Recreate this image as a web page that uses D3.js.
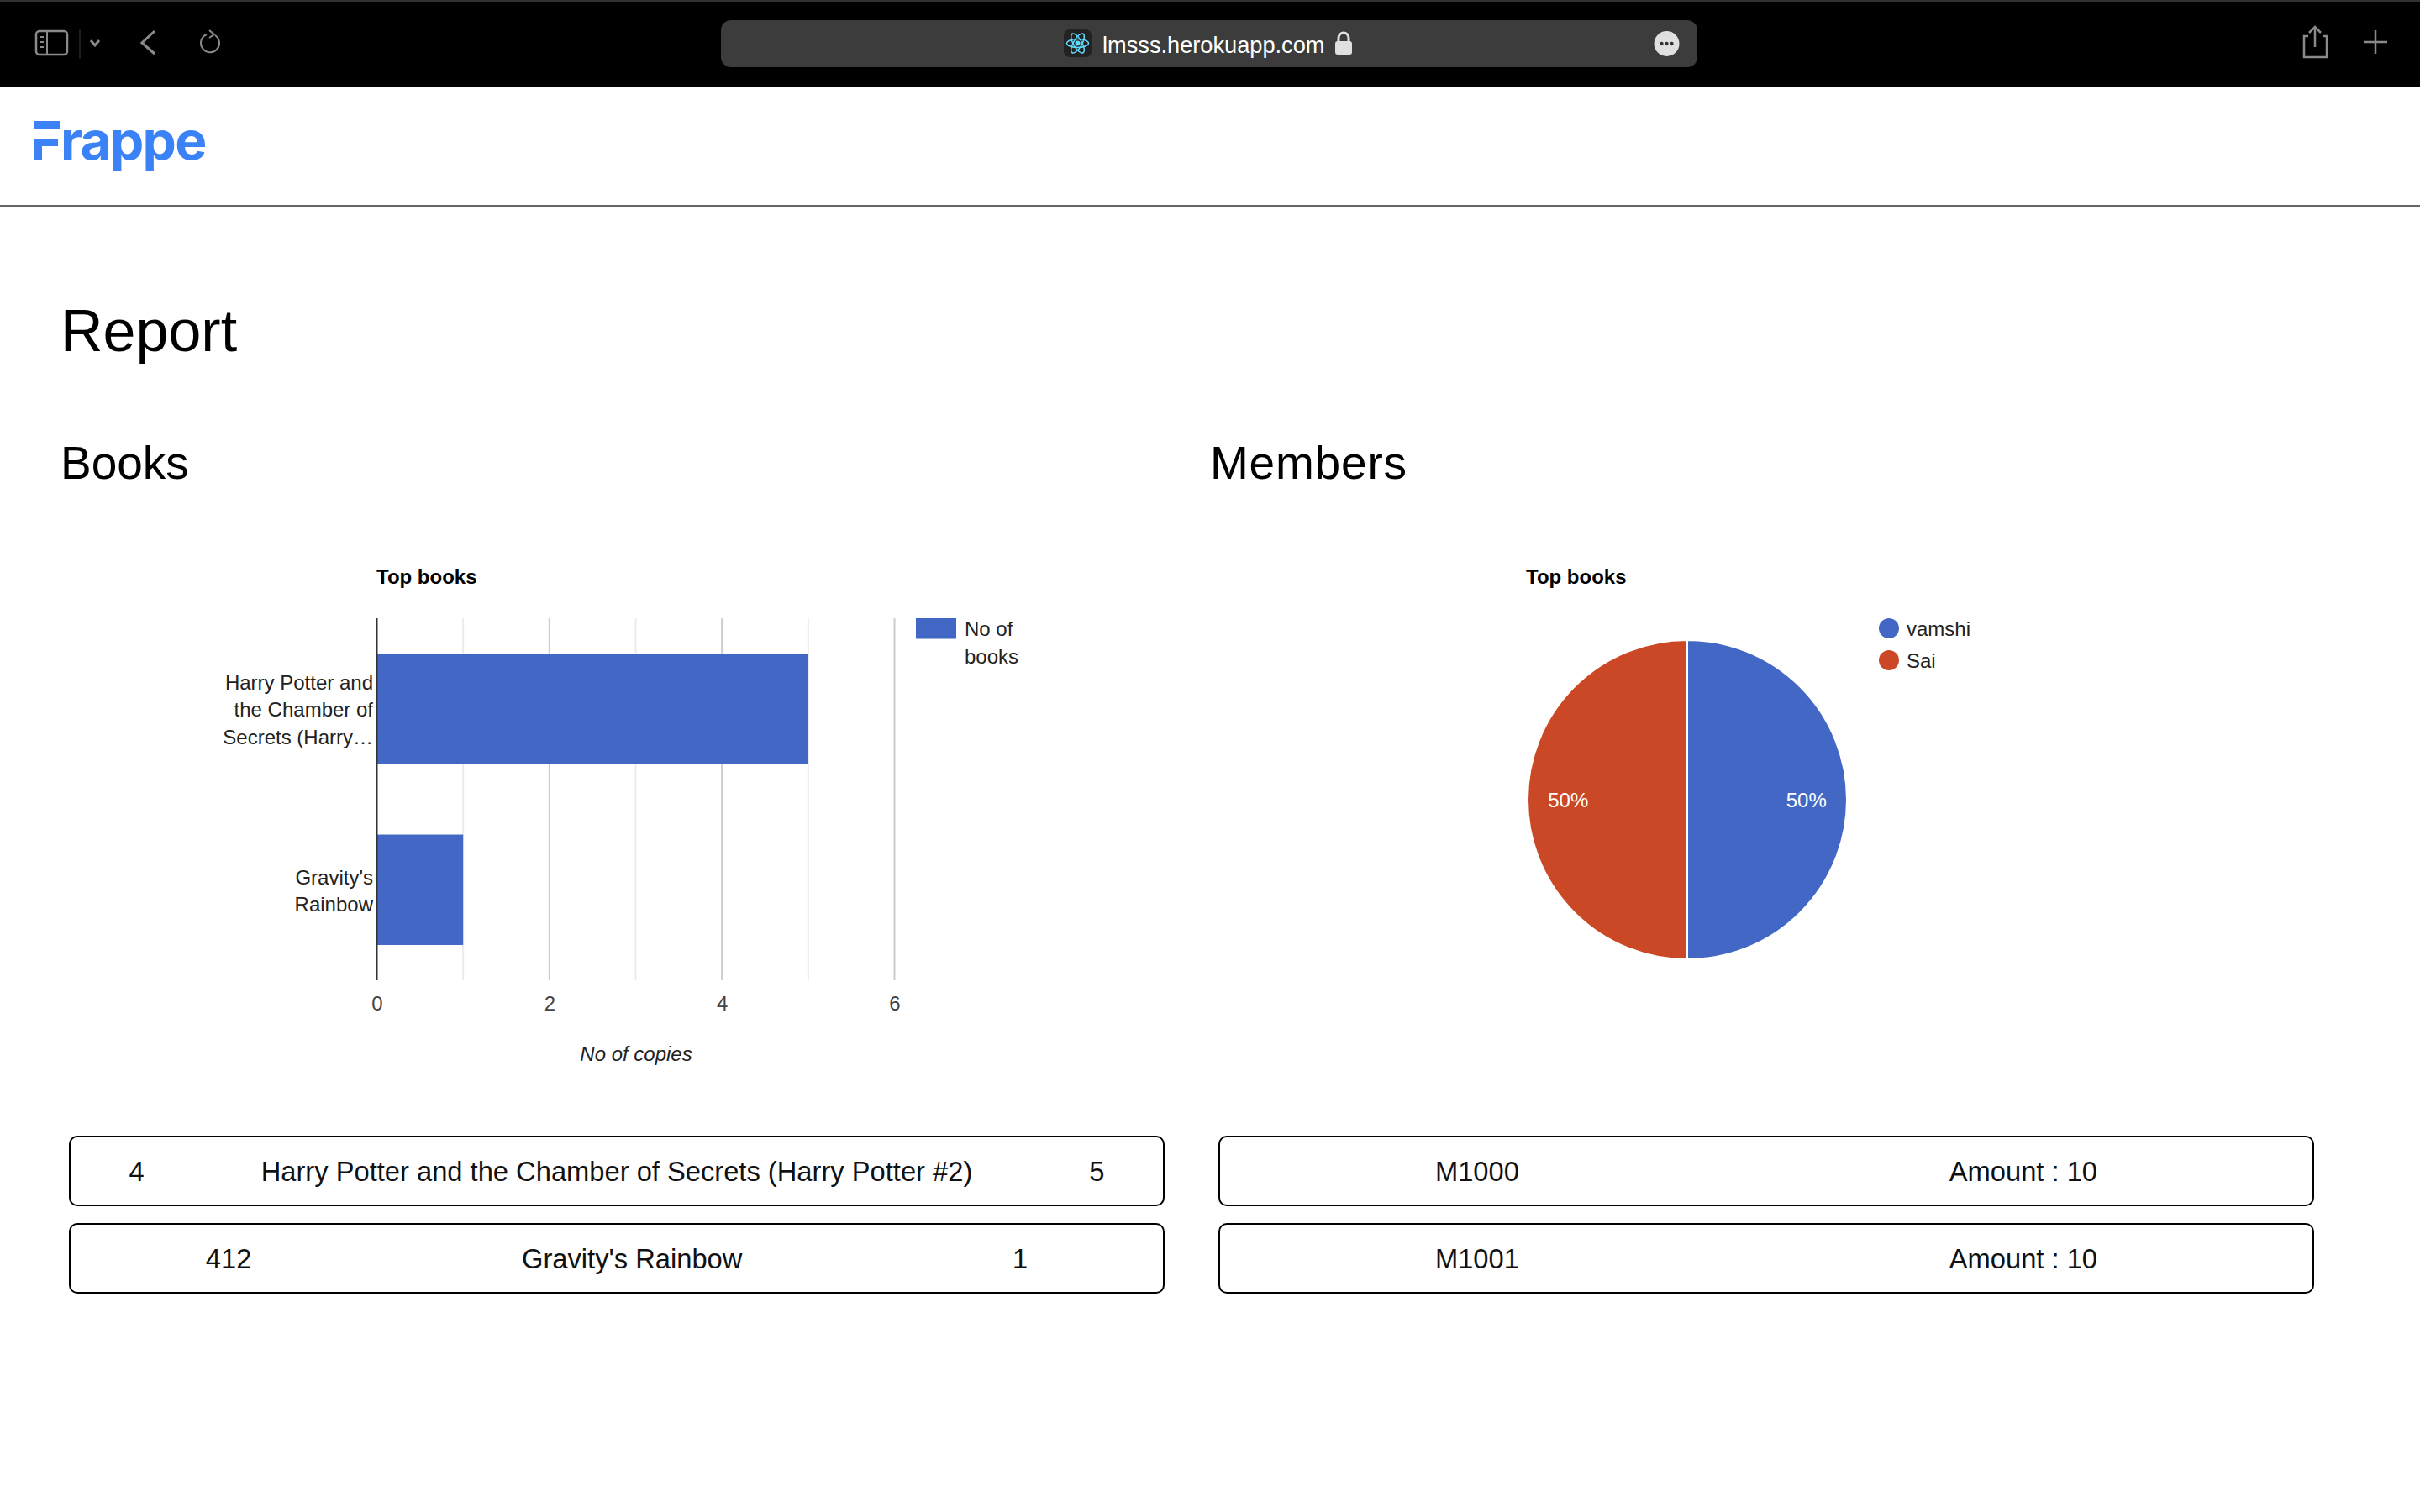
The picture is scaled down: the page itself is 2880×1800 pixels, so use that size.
<!DOCTYPE html>
<html>
<head>
<meta charset="utf-8">
<title>Report</title>
<script src="https://cdn.jsdelivr.net/npm/d3@7"></script>
<style>
    html, body { margin: 0; padding: 0; background: #fff; }
    body { width: 2880px; height: 1800px; position: relative; overflow: hidden; font-family: "Liberation Sans", Arial, sans-serif; }
    svg { position: absolute; left: 0; top: 0; }
    .row {
        position: absolute; box-sizing: border-box; height: 84px; width: 1304px;
        border: 2.5px solid #000; border-radius: 10px;
        display: flex; justify-content: space-around; align-items: center;
        font-size: 32.7px; color: #111;
    }
    .row span { position: relative; top: 1px; }
</style>
</head>
<body>
<svg id="page" width="2880" height="1800"></svg>
<script>
// datos
var bookLabels = [["Harry Potter and", "the Chamber of", "Secrets (Harry\u2026"], ["Gravity's", "Rainbow"]];
var bookCopies = [5, 1];
var xTickLabels = [0, 2, 4, 6];
var xGridValues = [0, 1, 2, 3, 4, 5, 6];
var barLegend = ["No of", "books"];

var memberNames = ["vamshi", "Sai"];
var memberShares = [50, 50];

var bookIds = ["4", "412"];
var bookTitles = ["Harry Potter and the Chamber of Secrets (Harry Potter #2)", "Gravity's Rainbow"];
var memberIds = ["M1000", "M1001"];
var memberAmounts = [10, 10];

var BLUE = "#4267c5";
var RED = "#cb4827";
var ICON = "#8a8a8a";

var svg = d3.select("#page");

// Barra del navegador
var chrome = svg.append("g");
chrome.append("rect").attr("width", 2880).attr("height", 104).attr("fill", "#000");
chrome.append("rect").attr("width", 2880).attr("height", 2).attr("fill", "#333");
chrome.append("rect").attr("x", 43).attr("y", 37).attr("width", 37).attr("height", 28).attr("rx", 4)
    .attr("fill", "none").attr("stroke", ICON).attr("stroke-width", 2.5);
chrome.append("path").attr("d", "M56,37V65M48,44h4M48,50h4M48,56h4").attr("fill", "none").attr("stroke", ICON).attr("stroke-width", 2);
chrome.append("path").attr("d", "M95,34V70").attr("stroke", "#262626").attr("stroke-width", 1.5);
chrome.append("path").attr("d", "M108,48l5,6l5,-6").attr("fill", "none").attr("stroke", ICON).attr("stroke-width", 3);
chrome.append("path").attr("d", "M184,37L169,51L184,64").attr("fill", "none").attr("stroke", ICON).attr("stroke-width", 3);
chrome.append("path").attr("d", "M246,41A11,11 0 1 0 256,42M249,36l6,5l-6,4").attr("fill", "none").attr("stroke", ICON).attr("stroke-width", 2);

chrome.append("rect").attr("x", 858).attr("y", 24).attr("width", 1162).attr("height", 56).attr("rx", 12).attr("fill", "#3c3c3c");
chrome.append("rect").attr("x", 1266).attr("y", 35).attr("width", 33).attr("height", 33).attr("rx", 7).attr("fill", "#222");
[0, 60, 120].forEach(function(a) {
    chrome.append("ellipse").attr("cx", 1282.5).attr("cy", 51.5).attr("rx", 13).attr("ry", 5)
        .attr("transform", "rotate(" + a + ",1282.5,51.5)")
        .attr("fill", "none").attr("stroke", "#61dafb").attr("stroke-width", 1.5);
});
chrome.append("circle").attr("cx", 1282.5).attr("cy", 51.5).attr("r", 3).attr("fill", "#61dafb");
chrome.append("text").attr("x", 1312).attr("y", 63).attr("font-size", 27.2).attr("fill", "#fff").text("lmsss.herokuapp.com");
chrome.append("rect").attr("x", 1589).attr("y", 49).attr("width", 20).attr("height", 16).attr("rx", 3).attr("fill", "#e0e0e0");
chrome.append("path").attr("d", "M1593,50V45a6,6 0 0 1 12,0V50").attr("fill", "none").attr("stroke", "#e0e0e0").attr("stroke-width", 3);
chrome.append("circle").attr("cx", 1983.5).attr("cy", 52).attr("r", 15).attr("fill", "#e0e0e0");
[-6, 0, 6].forEach(function(d) {
    chrome.append("circle").attr("cx", 1983.5 + d).attr("cy", 52).attr("r", 2.2).attr("fill", "#333");
});
chrome.append("path").attr("d", "M2747,43h-5v25h27v-25h-5M2755,56V32M2748,39l7,-7l7,7").attr("fill", "none").attr("stroke", ICON).attr("stroke-width", 2.5);
chrome.append("path").attr("d", "M2813,50h28M2827,36v28").attr("stroke", ICON).attr("stroke-width", 2.5);

// Logo y cabecera
var logo = svg.append("g").attr("fill", "#3b82f6");
logo.append("rect").attr("x", 40).attr("y", 144).attr("width", 32).attr("height", 9);
logo.append("path").attr("d", "M40,165.5H69V174H50V190H40Z");
logo.append("text").attr("x", 72).attr("y", 190).attr("font-family", "Inter").attr("font-weight", 700)
    .attr("font-size", 64).attr("letter-spacing", -1.7).text("rappe");
svg.append("rect").attr("y", 244).attr("width", 2880).attr("height", 2).attr("fill", "#666");

svg.append("text").attr("x", 72).attr("y", 418).attr("font-size", 70).attr("fill", "#000").text("Report");
svg.append("text").attr("x", 72).attr("y", 570).attr("font-size", 55).attr("fill", "#000").text("Books");
svg.append("text").attr("x", 1440).attr("y", 570).attr("font-size", 55).attr("letter-spacing", 0.8).attr("fill", "#000").text("Members");

// Grafico de barras
var x = d3.scaleLinear().domain([0, 6]).range([448.5, 1064.5]);
var y = d3.scaleBand().domain(d3.range(bookCopies.length)).range([736, 1167]).paddingInner(0.39).paddingOuter(0.195);
var bars = svg.append("g").attr("font-size", 24);

bars.append("text").attr("x", 448).attr("y", 695).attr("font-weight", 700).attr("fill", "#000").text("Top books");

bars.selectAll(".grid").data(xGridValues.slice(1)).enter().append("line")
    .attr("class", "grid")
    .attr("x1", function(d) { return x(d); }).attr("x2", function(d) { return x(d); })
    .attr("y1", 736).attr("y2", 1167)
    .attr("stroke", function(d) { return xTickLabels.indexOf(d) >= 0 ? "#cccccc" : "#ebebeb"; })
    .attr("stroke-width", 2);

bars.selectAll(".bar").data(bookCopies).enter().append("rect")
    .attr("class", "bar")
    .attr("x", x(0))
    .attr("y", function(d, i) { return y(i); })
    .attr("width", function(d) { return x(d) - x(0); })
    .attr("height", y.bandwidth())
    .attr("fill", BLUE);

bars.append("line").attr("x1", x(0)).attr("x2", x(0)).attr("y1", 736).attr("y2", 1167).attr("stroke", "#333").attr("stroke-width", 2);

var xAxis = bars.append("g").attr("transform", "translate(0,1167)")
    .call(d3.axisBottom(x).tickValues(xTickLabels).tickFormat(d3.format("d")).tickSize(0).tickPadding(19));
xAxis.select(".domain").remove();
xAxis.selectAll("text").attr("font-family", "Liberation Sans").attr("font-size", 24).attr("fill", "#444");

bars.selectAll(".catLabel").data(bookLabels).enter().append("text")
    .attr("class", "catLabel")
    .attr("text-anchor", "end")
    .attr("fill", "#222")
    .each(function(lines, i) {
        var mid = y(i) + y.bandwidth() / 2;
        d3.select(this).selectAll("tspan").data(lines).enter().append("tspan")
            .attr("x", 444)
            .attr("y", function(d, j) { return mid + 9.5 + (j - (lines.length - 1) / 2) * 32.5; })
            .text(function(d) { return d; });
    });

bars.append("text").attr("x", 757).attr("y", 1263).attr("text-anchor", "middle")
    .attr("font-style", "italic").attr("fill", "#222").text("No of copies");

bars.append("rect").attr("x", 1090).attr("y", 736).attr("width", 48).attr("height", 24.5).attr("fill", BLUE);
bars.selectAll(".legendLine").data(barLegend).enter().append("text")
    .attr("class", "legendLine")
    .attr("x", 1148)
    .attr("y", function(d, i) { return 757 + i * 32.5; })
    .attr("fill", "#222")
    .text(function(d) { return d; });

// Grafico circular
var pieSlices = d3.pie().sort(null)(memberShares);
var radius = 190;
var arc = d3.arc().innerRadius(0).outerRadius(radius);
var labelArc = d3.arc().innerRadius(radius * 0.746).outerRadius(radius * 0.746);
var colors = d3.scaleOrdinal().domain(memberNames).range([BLUE, RED]);
var pieChart = svg.append("g").attr("font-size", 24);

pieChart.append("text").attr("x", 1816).attr("y", 695).attr("font-weight", 700).attr("fill", "#000").text("Top books");

var pieG = pieChart.append("g").attr("transform", "translate(2008,952)");
pieG.selectAll("path").data(pieSlices).enter().append("path")
    .attr("d", arc)
    .attr("fill", function(d, i) { return colors(memberNames[i]); })
    .attr("stroke", "#fff")
    .attr("stroke-width", 2);
pieG.selectAll("text").data(pieSlices).enter().append("text")
    .attr("x", function(d) { return labelArc.centroid(d)[0]; })
    .attr("y", function(d) { return labelArc.centroid(d)[1] + 9; })
    .attr("text-anchor", "middle")
    .attr("fill", "#fff")
    .text(function(d) { return d.value + "%"; });

pieChart.selectAll(".pieKey").data(memberNames).enter().append("circle")
    .attr("class", "pieKey")
    .attr("cx", 2248)
    .attr("cy", function(d, i) { return 748 + i * 38; })
    .attr("r", 12)
    .attr("fill", function(d) { return colors(d); });
pieChart.selectAll(".pieKeyText").data(memberNames).enter().append("text")
    .attr("class", "pieKeyText")
    .attr("x", 2269)
    .attr("y", function(d, i) { return 757 + i * 38; })
    .attr("fill", "#222")
    .text(function(d) { return d; });

// Filas de abajo
function addRow(left, top, cells) {
    d3.select("body").append("div")
        .attr("class", "row")
        .style("left", left + "px")
        .style("top", top + "px")
        .selectAll("span").data(cells).enter().append("span")
        .text(function(d) { return d; });
}
bookIds.forEach(function(id, i) {
    addRow(82, 1352 + i * 104, [id, bookTitles[i], bookCopies[i]]);
});
memberIds.forEach(function(id, i) {
    addRow(1450, 1352 + i * 104, [id, "Amount : " + memberAmounts[i]]);
});
</script>
</body>
</html>
